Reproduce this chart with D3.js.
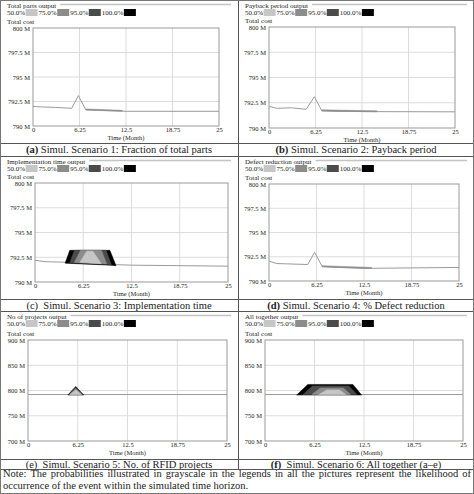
<!DOCTYPE html>
<meta charset="utf-8">
<style>
body { margin: 0; background: #fff; }
text { font-family: "Liberation Serif", "Times New Roman", serif; fill: #222; }
.small { font-size: 7px; }
.axis text { font-size: 6.5px; fill: #222; }
.xlab { font-size: 6.5px; }
.grid line { stroke: #dcdcdc; stroke-width: 1; }
.frame { fill: none; stroke: #999; stroke-width: 1; }
.rule { stroke: #555; stroke-width: 1; }
.caption { font-size: 10.5px; }
.note { font-size: 10.5px; }
</style>
<body>
<svg width="474" height="494"></svg>
<script src="https://d3js.org/d3.v7.min.js"></script>
<script>

// ---- data ----
var xTicks = [0, 6.25, 12.5, 18.75, 25];
var costTicksNarrow = [790, 792.5, 795, 797.5, 800];
var costTicksWide = [700, 750, 800, 850, 900];
var legendLabels = ["50.0%", "75.0%", "95.0%", "100.0%"];

var titles = ["Total parts output", "Payback period output", "Implementation time output",
              "Defect reduction output", "No of projects output", "All together output"];
var captionTags = ["(a)", "(b)", "(c)", "(d)", "(e)", "(f)"];
var captionTexts = [" Simul. Scenario 1: Fraction of total parts",
                    " Simul. Scenario 2: Payback period",
                    "  Simul. Scenario 3: Implementation time",
                    " Simul. Scenario 4: % Defect reduction",
                    "  Simul. Scenario 5: No. of RFID projects",
                    "  Simul. Scenario 6: All together (a\u2013e)"];
var noteLine1 = "Note: The probabilities illustrated in grayscale in the legends in all the pictures represent the likelihood of";
var noteLine2 = "occurrence of the event within the simulated time horizon.";

// total cost (M) over time (month): [t, value]
var lineA = [[0, 792.0], [1, 791.95], [3, 791.9], [5.2, 791.8], [6.1, 793.1], [7.1, 791.65], [9, 791.6], [12.5, 791.5], [25, 791.5]];
var lineB = [[0, 792.15], [1, 791.95], [3, 792.0], [5, 791.85], [6.1, 793.1], [7.1, 791.7], [9, 791.65], [14.5, 791.62], [25, 791.6]];
var lineC = [[0, 792.2], [1.3, 792.05], [3.9, 792.0], [7, 791.9], [10.5, 791.75], [12.5, 791.7], [25, 791.6]];
var lineD = [[0, 792.05], [1, 791.8], [5.1, 791.7], [6.0, 792.95], [7.0, 791.5], [9, 791.4], [12.5, 791.3], [25, 791.4]];
var lineE = [[0, 792], [25, 792]];
var lineF = [[0, 792], [25, 792]];

// confidence bands 50 / 75 / 95 / 100 %: [t, low, high]
var bandsA = [[], [[7.1, 791.62, 791.74], [12, 791.5, 791.6]], [], []];
var bandsB = [[], [[7.1, 791.68, 791.8], [14.5, 791.6, 791.7]], [], []];
var bandsC = [
  [[5.8, 791.97, 791.97], [6.7, 791.95, 793.1], [7.5, 791.9, 793.1], [8.6, 791.85, 791.85]],
  [[5.1, 791.98, 791.98], [5.9, 791.95, 793.2], [8.6, 791.85, 793.2], [9.3, 791.82, 791.82]],
  [[4.5, 791.95, 791.95], [5.1, 791.93, 793.2], [9.2, 791.8, 793.2], [9.9, 791.75, 791.75]],
  [[3.9, 791.9, 791.9], [4.5, 791.88, 793.2], [9.7, 791.7, 793.2], [10.5, 791.65, 791.65]]
];
var bandsD = [[], [[7.0, 791.45, 791.58], [13.5, 791.3, 791.4]], [], []];
var bandsE = [
  [[5.3, 792, 792], [6.0, 792, 801], [6.7, 792, 792]],
  [[5.2, 792, 792], [6.0, 792, 804], [6.8, 792, 792]],
  [[5.1, 792, 792], [6.0, 792, 806], [6.9, 792, 792]],
  [[5.0, 791, 791], [6.0, 791, 808], [7.0, 791, 791]]
];
var bandsF = [
  [[6.8, 792, 792], [7.8, 792, 801], [9.4, 792, 801], [10.2, 792, 792]],
  [[5.9, 792, 792], [7.0, 792, 805], [9.9, 792, 805], [10.8, 792, 792]],
  [[4.8, 792, 792], [6.0, 792, 809], [10.6, 792, 809], [11.6, 792, 792]],
  [[4.0, 791, 791], [5.4, 791, 812], [11.1, 791, 812], [12.2, 791, 791]]
];

// ---- layout ----
var bandColors = ["#c6c6c6", "#8c8c8c", "#4b4b4b", "#000"];
var colLeft = [0, 238], colRight = [238, 474];
var rowTop = [0, 156, 311];
var captionY = [149.5, 305, 464];

var panels = [
  {line: lineA, bands: bandsA, ticks: costTicksNarrow, col: 0, row: 0, box: [33, 219, 28, 126]},
  {line: lineB, bands: bandsB, ticks: costTicksNarrow, col: 1, row: 0, box: [269, 455, 27, 128]},
  {line: lineC, bands: bandsC, ticks: costTicksNarrow, col: 0, row: 1, box: [35, 228, 183, 282]},
  {line: lineD, bands: bandsD, ticks: costTicksNarrow, col: 1, row: 1, box: [269, 459, 184, 281]},
  {line: lineE, bands: bandsE, ticks: costTicksWide, col: 0, row: 2, box: [28, 227, 340, 441]},
  {line: lineF, bands: bandsF, ticks: costTicksWide, col: 1, row: 2, box: [265, 463, 340, 441]}
];

var svg = d3.select("svg");
svg.append("rect").attr("width", 474).attr("height", 494).attr("fill", "#fff");

panels.forEach(function(p, i) {
  var l = p.box[0], r = p.box[1], t = p.box[2], b = p.box[3];
  var x0 = colLeft[p.col] + 7, top = rowTop[p.row];
  var g = svg.append("g");

  var x = d3.scaleLinear().domain([0, 25]).range([l, r]);
  var y = d3.scaleLinear().domain([p.ticks[0], p.ticks[p.ticks.length - 1]]).range([b, t]);

  // header: title + rule
  var title = g.append("text").attr("class", "small")
      .attr("x", x0).attr("y", top + 7.5).text(titles[i]);
  var tw = title.node().getComputedTextLength();
  g.append("line")
      .attr("x1", x0 + tw + 4).attr("x2", colRight[p.col] - 7)
      .attr("y1", top + 4.5).attr("y2", top + 4.5)
      .attr("stroke", "#c4c4c4").attr("stroke-width", 1.5);

  // legend
  var lx = x0;
  legendLabels.forEach(function(lab, k) {
    var txt = g.append("text").attr("class", "small")
        .attr("x", lx).attr("y", top + 14.5).text(lab);
    lx += txt.node().getComputedTextLength() + 0.5;
    g.append("rect").attr("x", lx).attr("y", top + 9).attr("width", 12).attr("height", 7)
        .attr("fill", bandColors[k]);
    lx += 13;
  });

  g.append("text").attr("class", "small").attr("x", x0).attr("y", t - 4).text("Total cost");

  // grid
  var grid = g.append("g").attr("class", "grid");
  grid.selectAll(".v").data(xTicks.slice(1, -1)).enter().append("line")
      .attr("x1", function(d) { return x(d); }).attr("x2", function(d) { return x(d); })
      .attr("y1", t).attr("y2", b);
  grid.selectAll(".h").data(p.ticks.slice(1, -1)).enter().append("line")
      .attr("x1", l).attr("x2", r)
      .attr("y1", function(d) { return y(d); }).attr("y2", function(d) { return y(d); });

  // series line
  g.append("path").datum(p.line)
      .attr("fill", "none").attr("stroke", "#9a9a9a").attr("stroke-width", 1)
      .attr("d", d3.line().x(function(d) { return x(d[0]); }).y(function(d) { return y(d[1]); }));

  // bands, widest first
  var area = d3.area()
      .x(function(d) { return x(d[0]); })
      .y0(function(d) { return y(d[1]); })
      .y1(function(d) { return y(d[2]); });
  for (var k = 3; k >= 0; k--) {
    if (!p.bands[k].length) continue;
    g.append("path").datum(p.bands[k])
        .attr("fill", bandColors[k]).attr("stroke", bandColors[k]).attr("stroke-width", 0.5)
        .attr("d", area);
  }

  g.append("rect").attr("class", "frame")
      .attr("x", l).attr("y", t).attr("width", r - l).attr("height", b - t);

  // axes
  g.append("g").attr("class", "axis").attr("transform", "translate(" + l + ",0)")
      .call(d3.axisLeft(y).tickValues(p.ticks).tickSize(0).tickPadding(3)
          .tickFormat(function(d) { return d + " M"; }))
      .call(function(s) { s.select(".domain").remove(); });
  g.append("g").attr("class", "axis").attr("transform", "translate(0," + b + ")")
      .call(d3.axisBottom(x).tickValues(xTicks).tickSize(0).tickPadding(1.5)
          .tickFormat(function(d) { return d; }))
      .call(function(s) { s.select(".domain").remove(); });
  g.append("text").attr("class", "xlab").attr("text-anchor", "middle")
      .attr("x", (l + r) / 2).attr("y", b + 14).text("Time (Month)");

  // caption
  var cap = svg.append("text").attr("class", "caption").attr("text-anchor", "middle")
      .attr("x", (colLeft[p.col] + colRight[p.col]) / 2).attr("y", captionY[p.row] + 3.5)
      .attr("xml:space", "preserve");
  cap.append("tspan").attr("font-weight", (p.col === 1 || i === 0) ? "bold" : "normal").text(captionTags[i]);
  cap.append("tspan").text(captionTexts[i]);
});

// table rules
var rules = svg.append("g");
[143, 156, 299, 311, 459, 469].forEach(function(yy) {
  rules.append("line").attr("class", "rule").attr("x1", 0).attr("x2", 474)
      .attr("y1", yy + 0.5).attr("y2", yy + 0.5);
});
rules.append("line").attr("class", "rule").attr("x1", 238.5).attr("x2", 238.5).attr("y1", 0).attr("y2", 469);
rules.append("rect").attr("x", 0.5).attr("y", 0.5).attr("width", 473).attr("height", 493)
    .attr("fill", "none").attr("stroke", "#777");

// note, first line justified
var words = noteLine1.split(" ");
var ws = words.map(function(w) {
  return svg.append("text").attr("class", "note").attr("y", 477).text(w);
});
var widths = ws.map(function(s) { return s.node().getComputedTextLength(); });
var gap = (471 - 3 - d3.sum(widths)) / (words.length - 1);
var cx = 3;
ws.forEach(function(s, k) { s.attr("x", cx); cx += widths[k] + gap; });
svg.append("text").attr("class", "note").attr("x", 3).attr("y", 489).text(noteLine2);

</script>
</body>
</html>
